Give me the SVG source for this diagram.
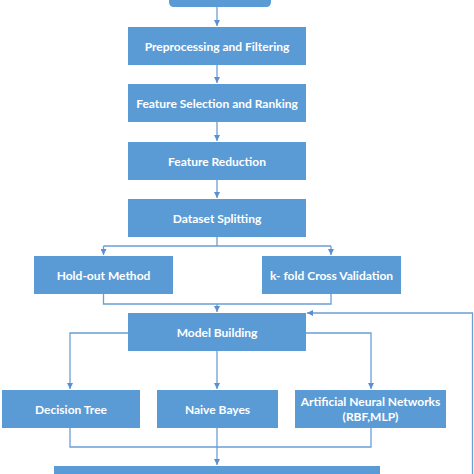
<svg xmlns="http://www.w3.org/2000/svg" width="474" height="474" viewBox="0 0 474 474">
<style>
.box{fill:#5B9BD5;}
.t{font-family:Lato,"Open Sans","Liberation Sans",sans-serif;font-weight:bold;font-size:12px;fill:#fff;text-anchor:middle;dominant-baseline:central;}
.c{fill:none;stroke:#6A9FD6;stroke-width:1.3;}
</style>
<defs>
<marker id="a" viewBox="0 0 8 8" refX="8" refY="4" markerWidth="6" markerHeight="6" markerUnits="userSpaceOnUse" orient="auto">
<path d="M0,0 L8,4 L0,8 z" fill="#5B8FD0"/>
</marker>
</defs>
<rect width="474" height="474" fill="#fff"/>
<g id="connectors">
<path class="c" d="M217,7 V26" marker-end="url(#a)"/>
<path class="c" d="M217,65 V83" marker-end="url(#a)"/>
<path class="c" d="M217,122 V141" marker-end="url(#a)"/>
<path class="c" d="M217,180 V198" marker-end="url(#a)"/>
<path class="c" d="M217,237 V246 M103.5,246 H331"/>
<path class="c" d="M103.5,246 V255" marker-end="url(#a)"/>
<path class="c" d="M331,246 V255" marker-end="url(#a)"/>
<path class="c" d="M103.5,294 V304 H331 V294"/>
<path class="c" d="M217,304 V312" marker-end="url(#a)"/>
<path class="c" d="M472.5,474 V313 H307" marker-end="url(#a)"/>
<path class="c" d="M128,333 H70 V389" marker-end="url(#a)"/>
<path class="c" d="M306,333 H371 V389" marker-end="url(#a)"/>
<path class="c" d="M217,351 V389" marker-end="url(#a)"/>
<path class="c" d="M70,428 V447 H371 V428"/>
<path class="c" d="M217,428 V465" marker-end="url(#a)"/>
</g>
<g id="start"><path class="box" d="M169,-10 H271 V2 Q271,7 266,7 H174 Q169,7 169,2 Z"/></g>
<g id="preprocessing"><rect class="box" x="128" y="27" width="178" height="38"/><text class="t" x="217" y="46">Preprocessing and Filtering</text></g>
<g id="feature-selection"><rect class="box" x="128" y="84" width="178" height="38"/><text class="t" x="217" y="103">Feature Selection and Ranking</text></g>
<g id="feature-reduction"><rect class="box" x="128" y="142" width="178" height="38"/><text class="t" x="217" y="161">Feature Reduction</text></g>
<g id="dataset-splitting"><rect class="box" x="128" y="199" width="178" height="38"/><text class="t" x="217" y="218">Dataset Splitting</text></g>
<g id="holdout"><rect class="box" x="34" y="256" width="139" height="38"/><text class="t" x="103.5" y="275">Hold-out Method</text></g>
<g id="kfold"><rect class="box" x="262" y="256" width="139" height="38"/><text class="t" x="331.5" y="275">k- fold Cross Validation</text></g>
<g id="model-building"><rect class="box" x="128" y="313" width="178" height="38"/><text class="t" x="217" y="332">Model Building</text></g>
<g id="decision-tree"><rect class="box" x="2" y="390" width="138" height="38"/><text class="t" x="71" y="409">Decision Tree</text></g>
<g id="naive-bayes"><rect class="box" x="157" y="390" width="121" height="38"/><text class="t" x="217.5" y="409">Naive Bayes</text></g>
<g id="ann"><rect class="box" x="295" y="390" width="151" height="38"/><text class="t" x="370.5" y="401.5">Artificial Neural Networks</text><text class="t" x="370.5" y="416.5">(RBF,MLP)</text></g>
<g id="bottom"><rect class="box" x="54" y="466" width="326" height="20"/></g>
</svg>
